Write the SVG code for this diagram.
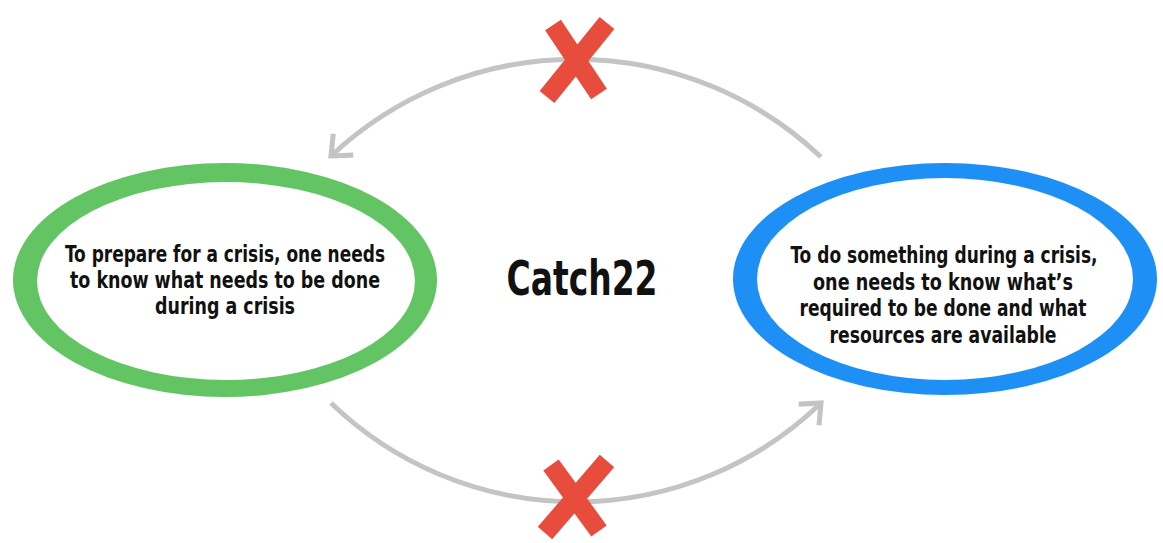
<svg xmlns="http://www.w3.org/2000/svg" width="1163" height="543" viewBox="0 0 1163 543">
  <style>
    .lbl { font-family: "Liberation Sans Narrow", "DejaVu Sans Condensed", "Liberation Sans", sans-serif; font-weight: bold; fill: #111; text-anchor: middle; }
    .body { font-size: 23px; }
    .title { font-size: 48px; }
    .arc { fill: none; stroke: #c4c4c4; stroke-width: 5; }
    .cross { stroke: #e74c3c; stroke-width: 19; stroke-linecap: butt; }
  </style>
  <defs>
    <marker id="arrow" markerUnits="userSpaceOnUse" markerWidth="40" markerHeight="40" viewBox="-20 -20 40 40" refX="0" refY="0" orient="auto">
      <path d="M -15 -13 L 0 0 L -15 13" fill="none" stroke="#c4c4c4" stroke-width="5" stroke-linecap="square" stroke-linejoin="miter"/>
    </marker>
  </defs>
  <rect width="1163" height="543" fill="#ffffff"/>

  <g id="connectors">
    <path class="arc" d="M 821 157 A 357 357 0 0 0 331 156" marker-end="url(#arrow)"/>
    <path class="arc" d="M 331 403 A 353 353 0 0 0 821 403" marker-end="url(#arrow)"/>
  </g>

  <g id="cross-top">
    <line class="cross" x1="553" y1="25" x2="599" y2="94"/>
    <line class="cross" x1="607" y1="23" x2="547" y2="97"/>
  </g>
  <g id="cross-bottom">
    <line class="cross" x1="551" y1="465" x2="599" y2="531"/>
    <line class="cross" x1="607" y1="461" x2="545" y2="533"/>
  </g>

  <g id="node-prepare">
    <ellipse cx="225" cy="280" rx="212" ry="117" fill="#62c462"/>
    <ellipse cx="226" cy="281" rx="189" ry="99" fill="#ffffff"/>
    <text class="lbl body" x="225" y="262" textLength="320" lengthAdjust="spacingAndGlyphs">To prepare for a crisis, one needs</text>
    <text class="lbl body" x="225" y="288" textLength="310" lengthAdjust="spacingAndGlyphs">to know what needs to be done</text>
    <text class="lbl body" x="225" y="314" textLength="140" lengthAdjust="spacingAndGlyphs">during a crisis</text>
  </g>

  <g id="node-title">
    <text class="lbl title" x="582" y="295" textLength="151" lengthAdjust="spacingAndGlyphs">Catch22</text>
  </g>

  <g id="node-do">
    <ellipse cx="945" cy="279" rx="212" ry="116" fill="#1e90f5"/>
    <ellipse cx="945" cy="279" rx="188" ry="101" fill="#ffffff"/>
    <text class="lbl body" x="944" y="263" textLength="307" lengthAdjust="spacingAndGlyphs">To do something during a crisis,</text>
    <text class="lbl body" x="943" y="290" textLength="260" lengthAdjust="spacingAndGlyphs">one needs to know what’s</text>
    <text class="lbl body" x="943" y="316" textLength="287" lengthAdjust="spacingAndGlyphs">required to be done and what</text>
    <text class="lbl body" x="943" y="343" textLength="227" lengthAdjust="spacingAndGlyphs">resources are available</text>
  </g>
</svg>
